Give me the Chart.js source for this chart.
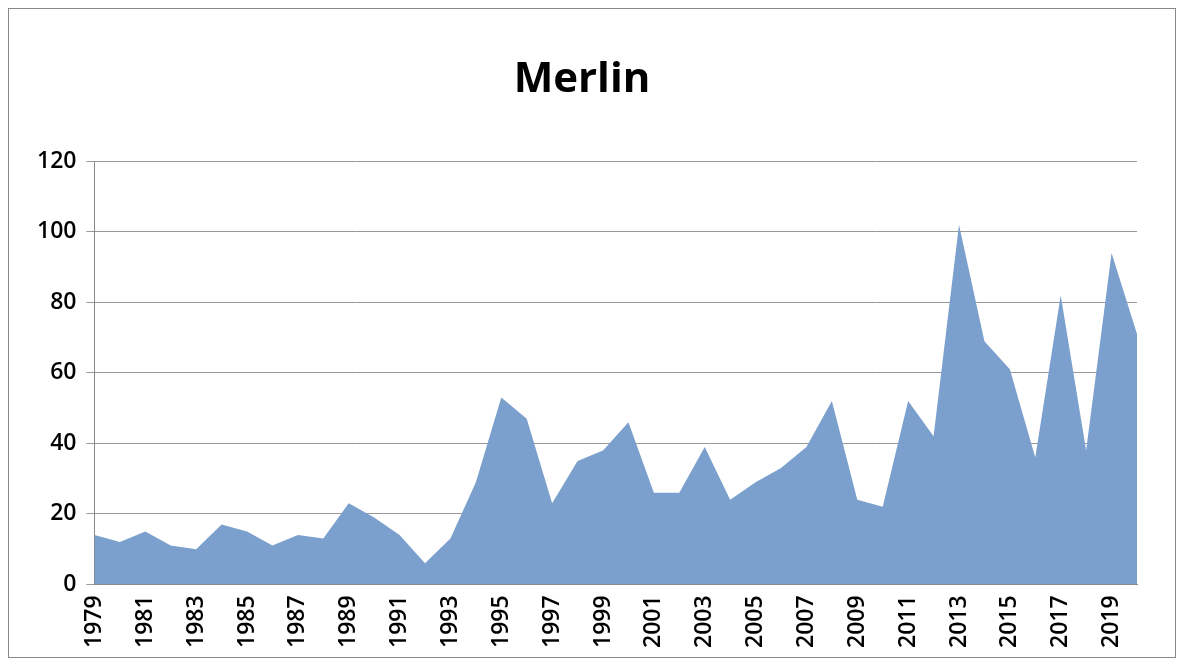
<!DOCTYPE html>
<html><head><script src="https://cdn.jsdelivr.net/npm/chart.js@4"></script>
<style>body{margin:0;background:#fff}#w{position:absolute;left:8px;top:8px;width:1168px;height:650px;border:1.5px solid #888;box-sizing:border-box}</style></head>
<body><div id="w"><canvas id="c"></canvas></div>
<script>
const years=[];for(let y=1979;y<=2020;y++)years.push(String(y));
const counts=[14,12,15,11,10,17,15,11,14,13,23,19,14,6,13,29,53,47,23,35,38,46,26,26,39,24,29,33,39,52,24,22,52,42,102,69,61,36,82,38,94,71];
const yTicks=[0,20,40,60,80,100,120];
new Chart(document.getElementById('c'),{type:'line',
data:{labels:years,datasets:[{data:counts,fill:'origin',backgroundColor:'#7ba0cd',borderWidth:0,pointRadius:0,tension:0}]},
options:{responsive:true,maintainAspectRatio:false,animation:false,
layout:{padding:{left:18,right:38,top:10,bottom:6}},
plugins:{legend:{display:false},tooltip:{enabled:false},title:{display:true,text:'Merlin',font:{family:'Open Sans',size:42,weight:'bold'},color:'#000',padding:{top:36,bottom:56}}},
scales:{x:{offset:false,grid:{display:false},border:{color:'#888'},ticks:{autoSkip:false,maxRotation:90,minRotation:90,color:'#000',font:{family:'Open Sans',size:23,weight:'600'},callback:(v,i)=>i%2===0?years[i]:''}},
y:{min:0,max:120,afterBuildTicks:a=>{a.ticks=yTicks.map(v=>({value:v}))},grid:{color:'#999',tickLength:8},border:{color:'#888'},ticks:{color:'#000',padding:10,font:{family:'Open Sans',size:23,weight:'600'}}}}}});
</script></body></html>
